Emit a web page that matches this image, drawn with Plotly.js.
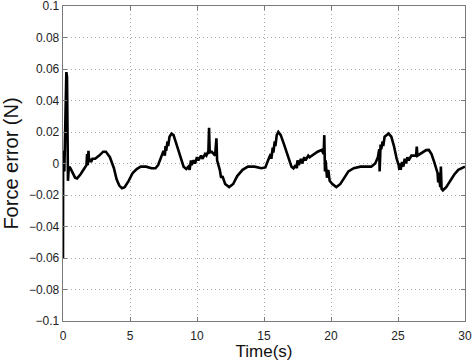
<!DOCTYPE html>
<html><head><meta charset="utf-8">
<script src="https://cdn.plot.ly/plotly-3.0.1.min.js"></script>
<style>html,body{margin:0;padding:0;background:#fff}#chart{width:474px;height:361px}</style>
</head><body><div id="chart"></div>
<script>
const time = [0,0.01,0.05,0.1,0.15,0.2,0.25,0.3,0.33,0.37,0.42,0.47,0.55,
0.7,0.9,1.05,1.3,1.6,1.75,1.8,1.85,1.9,1.95,2.05,2.1,2.2,2.4,2.7,3.0,3.2,3.5,3.8,4.0,4.2,4.4,4.6,4.9,5.2,5.5,5.8,6.2,6.6,6.9,
7.1,7.3,7.5,7.6,7.65,7.7,7.8,7.85,7.95,8.1,8.25,8.4,8.6,8.8,9.0,9.2,9.35,9.45,9.55,9.6,9.75,9.85,10.0,10.1,10.3,10.4,10.6,10.7,10.85,10.9,10.95,11.1,11.35,11.45,11.5,11.7,11.8,11.9,12.1,12.4,12.7,13.0,13.4,13.8,14.3,14.8,
15.1,15.35,15.5,15.55,15.65,15.7,15.8,15.85,15.95,16.07,16.25,16.5,16.8,17.05,17.2,17.35,17.45,17.5,17.6,17.75,17.85,18.0,18.1,18.3,18.4,18.7,19.0,19.3,19.45,19.5,19.55,19.6,19.7,19.8,19.9,20.1,20.4,20.7,21.0,21.3,21.7,22.2,22.7,
23.0,23.3,23.5,23.6,23.63,23.7,23.75,23.85,23.9,24.0,24.3,24.5,24.7,24.9,25.05,25.1,25.15,25.2,25.3,25.4,25.5,25.6,25.7,25.8,26.0,26.35,26.4,26.45,26.8,27.1,27.3,27.5,27.7,27.85,27.95,28.0,28.05,28.15,28.2,28.25,28.35,28.6,28.9,29.2,29.5,29.8,30];
const forceError = [-0.06,0.008,0.0,-0.005,0.02,0.05,0.058,0.055,0.02,-0.011,-0.004,-0.002,-0.003,
-0.006,-0.009,-0.0095,-0.007,-0.003,-0.001,0.006,-0.001,0.008,0.001,0.003,0.001,0.003,0.003,0.005,0.0075,0.0075,0.004,-0.003,-0.01,-0.014,-0.0157,-0.015,-0.011,-0.006,-0.0035,-0.002,-0.002,-0.003,-0.003,
-0.001,0.004,0.008,0.005,0.011,0.008,0.014,0.011,0.017,0.019,0.018,0.014,0.009,0.003,-0.002,-0.0035,-0.002,-0.004,0.002,-0.001,0.002,0.0,0.004,0.002,0.005,0.003,0.006,0.005,0.008,0.0227,0.007,0.0075,0.005,0.016,0.002,-0.004,-0.009,-0.008,-0.013,-0.015,-0.013,-0.008,-0.004,-0.002,-0.002,-0.003,
-0.0025,0.003,0.006,0.003,0.01,0.007,0.014,0.011,0.018,0.02,0.018,0.012,0.004,-0.002,-0.003,-0.001,-0.003,0.002,-0.001,0.003,0.0,0.004,0.002,0.005,0.004,0.006,0.0075,0.0086,0.006,0.018,-0.005,0.002,-0.009,-0.004,-0.011,-0.013,-0.015,-0.013,-0.009,-0.005,-0.003,-0.002,-0.002,
-0.002,0.0,0.004,0.009,-0.005,0.012,0.009,0.014,0.011,0.017,0.019,0.017,0.011,0.003,-0.001,-0.004,0.0,-0.004,0.001,-0.002,0.003,0.0,0.004,0.002,0.005,0.005,0.0107,0.005,0.007,0.0085,0.0086,0.006,0.001,-0.003,-0.006,-0.012,-0.006,-0.015,-0.002,-0.016,-0.017,-0.015,-0.011,-0.007,-0.004,-0.003,-0.002];
const xTicks = [0,5,10,15,20,25,30];
const yTicks = [0.1,0.08,0.06,0.04,0.02,0,-0.02,-0.04,-0.06,-0.08,-0.1];
const yTickText = ['0.1','0.08','0.06','0.04','0.02','0','\u22120.02','\u22120.04','\u22120.06','\u22120.08','\u22120.1'];

const axisCommon = {
  showline:true, linecolor:'#7a7a7a', linewidth:1.3, mirror:'ticks',
  ticks:'inside', ticklen:4, tickcolor:'#7a7a7a', ticklabeloverflow:'allow',
  showgrid:true, gridcolor:'#a8a8a8', griddash:'1px,3px', gridwidth:1,
  zeroline:false, tickfont:{family:'Liberation Sans, Arial', size:12, color:'#222'}
};
Plotly.newPlot('chart', [{
  x: time, y: forceError, type:'scatter', mode:'lines',
  line:{color:'#000', width:2.6}, hoverinfo:'skip', cliponaxis:false
}], {
  width:474, height:361,
  margin:{l:63, r:9, t:6, b:40},
  paper_bgcolor:'#fff', plot_bgcolor:'#fff', showlegend:false,
  xaxis: Object.assign({}, axisCommon, {range:[0,30], tickvals:xTicks, ticklabelstandoff:3,
    title:{text:'Time(s)', font:{family:'Liberation Sans, Arial', size:17, color:'#111'}, standoff:1}}),
  yaxis: Object.assign({}, axisCommon, {range:[-0.1,0.1000001], tickvals:yTicks, ticktext:yTickText,
    title:{text:'Force error (N)', font:{family:'Liberation Sans, Arial', size:20, color:'#111'}, standoff:6}})
}, {staticPlot:true});
</script></body></html>
